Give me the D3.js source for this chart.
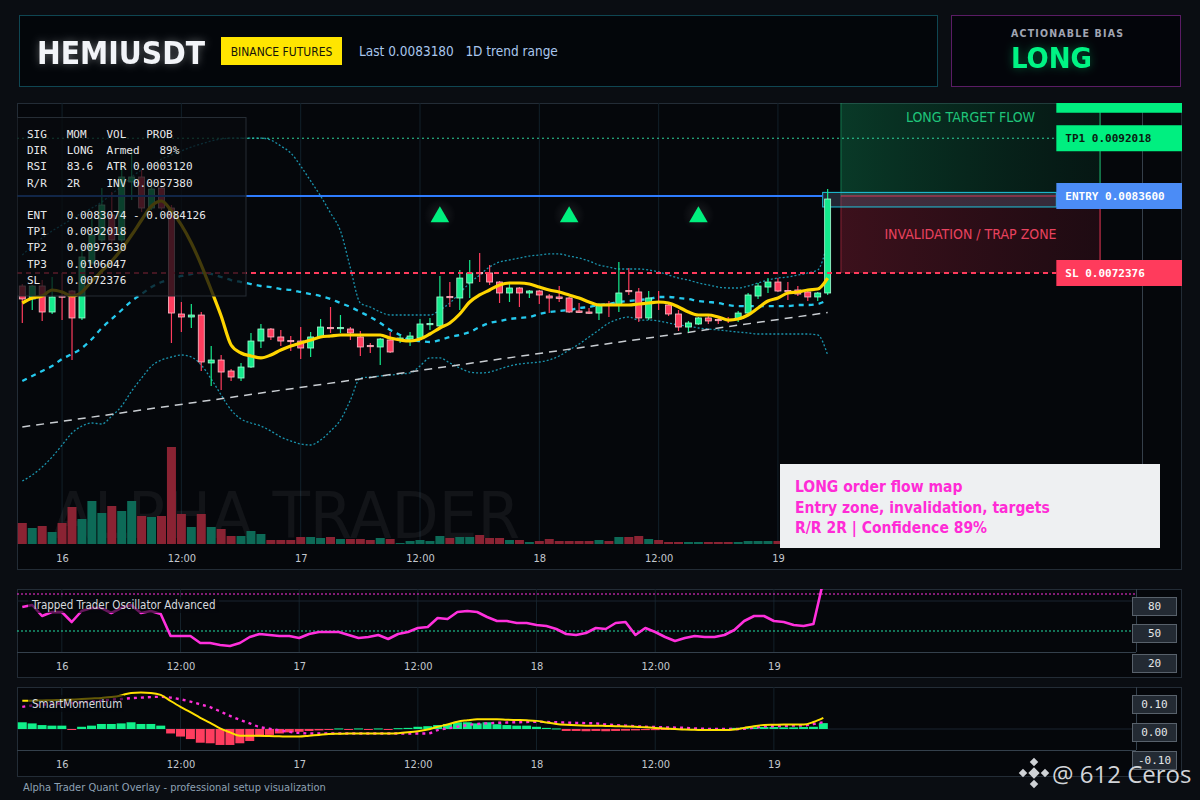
<!DOCTYPE html>
<html>
<head>
<meta charset="utf-8">
<title>HEMIUSDT</title>
<script src="https://cdn.jsdelivr.net/npm/d3@7/dist/d3.min.js"></script>
<style>
	html, body { margin: 0; padding: 0; background: #0a0d12; overflow: hidden; }
	svg { display: block; }
	svg text { font-family: "DejaVu Sans Condensed", "DejaVu Sans", sans-serif; font-stretch: condensed; }
	svg text.mono { font-family: "DejaVu Sans Mono", monospace; font-stretch: normal; white-space: pre; }
	.tick text { fill: #c3c8ce; font-size: 11px; }
</style>
</head>
<body>
<div id="chart"></div>
<script>
// ---------- data (1h candles, first one 15th 20:00) ----------
const open = [0.007048,0.006859,0.007048,0.006669,0.006902,0.006975,0.006582,0.007383,0.007719,0.008083,
	0.007719,0.008564,0.008637,0.008185,0.008477,0.008185,0.006640,0.006596,0.006625,0.005926,
	0.005969,0.005809,0.005707,0.005867,0.006246,0.006421,0.006305,0.006254,0.006246,0.006144,
	0.006305,0.006443,0.006428,0.006421,0.006305,0.006181,0.006159,0.006261,0.006261,0.006275,
	0.006290,0.006487,0.006465,0.006895,0.006873,0.007092,0.007245,0.007238,0.007106,0.006946,
	0.007019,0.006946,0.006975,0.006902,0.006888,0.006873,0.006684,0.006669,0.006654,0.006786,
	0.006771,0.006982,0.006961,0.006582,0.006822,0.006771,0.006640,0.006450,0.006494,0.006582,
	0.006560,0.006560,0.006567,0.006654,0.006902,0.007033,0.007106,0.006982,0.006990,0.006961,
	0.006888,0.006946];
const close = [0.006859,0.007048,0.006669,0.006888,0.006888,0.006582,0.007471,0.007791,0.008229,0.007719,
	0.008637,0.008637,0.008185,0.008462,0.008185,0.006654,0.006596,0.006625,0.005940,0.005969,
	0.005794,0.005721,0.005867,0.006246,0.006421,0.006305,0.006246,0.006239,0.006144,0.006305,
	0.006450,0.006428,0.006443,0.006363,0.006159,0.006166,0.006275,0.006086,0.006290,0.006319,
	0.006494,0.006501,0.006888,0.006880,0.007164,0.007238,0.007230,0.007106,0.006946,0.007019,
	0.006946,0.006975,0.006917,0.006873,0.006866,0.006669,0.006662,0.006650,0.006771,0.006771,
	0.006946,0.006968,0.006582,0.006873,0.006807,0.006640,0.006450,0.006509,0.006582,0.006538,
	0.006545,0.006545,0.006654,0.006917,0.007048,0.007106,0.006975,0.006968,0.006931,0.006888,
	0.006946,0.008316];
const high = [0.007077,0.007063,0.007135,0.007179,0.007238,0.006990,0.007573,0.008054,0.008477,0.008419,
	0.008812,0.009030,0.008739,0.008521,0.008506,0.008229,0.006815,0.006786,0.006669,0.006173,
	0.006042,0.005838,0.005926,0.006363,0.006494,0.006436,0.006407,0.006319,0.006450,0.006377,
	0.006567,0.006742,0.006625,0.006450,0.006392,0.006217,0.006290,0.006377,0.006334,0.006377,
	0.006567,0.006582,0.007194,0.007106,0.007281,0.007427,0.007529,0.007354,0.007121,0.007092,
	0.007033,0.006990,0.006990,0.006931,0.007048,0.006888,0.006800,0.006727,0.006800,0.006829,
	0.007398,0.007310,0.007019,0.006975,0.006975,0.006800,0.006698,0.006538,0.006596,0.006611,
	0.006611,0.006596,0.006684,0.006946,0.007092,0.007164,0.007164,0.007106,0.007048,0.006975,
	0.006961,0.008462];
const low = [0.006509,0.006698,0.006538,0.006640,0.006552,0.005969,0.006552,0.007354,0.007689,0.007646,
	0.007689,0.008302,0.008127,0.008156,0.008156,0.006217,0.006377,0.006436,0.005809,0.005590,
	0.005532,0.005663,0.005663,0.005853,0.006144,0.006261,0.006173,0.006100,0.005984,0.006013,
	0.006290,0.006363,0.006363,0.006261,0.006028,0.006071,0.005896,0.006071,0.006217,0.006173,
	0.006275,0.006407,0.006450,0.006742,0.006698,0.006873,0.007106,0.007063,0.006800,0.006815,
	0.006742,0.006873,0.006786,0.006654,0.006815,0.006654,0.006654,0.006640,0.006552,0.006596,
	0.006669,0.006917,0.006523,0.006552,0.006698,0.006611,0.006392,0.006377,0.006479,0.006494,
	0.006494,0.006509,0.006523,0.006640,0.006859,0.006946,0.006961,0.006844,0.006902,0.006829,
	0.006829,0.006917];
const volume = [21,16,18,12,21,37,25,43,31,38, 33,43,28,27,28,97,30,17,30,17, 15,8,8,13,10,4,4,4,7,7,
	6,7,5,5,5,4,6,5,1,3, 4,3,8,6,7,7,9,6,6,4, 4,2,3,5,3,3,3,3,4,3, 7,7,8,5,4,2,2,2,2,2,
	2,2,2,3,3,3,3,3,3,4, 3,12];

const ema = [0.006800,0.006873,0.006902,0.006990,0.006961,0.006902,0.006961,0.007121,0.007267,0.007412,
	0.007587,0.007791,0.008010,0.008214,0.008287,0.008141,0.007937,0.007675,0.007354,0.006990,
	0.006611,0.006188,0.006071,0.006028,0.005999,0.006042,0.006115,0.006173,0.006217,0.006261,
	0.006305,0.006319,0.006334,0.006334,0.006334,0.006334,0.006334,0.006290,0.006261,0.006246,
	0.006275,0.006348,0.006436,0.006509,0.006640,0.006815,0.006917,0.006990,0.007063,0.007092,
	0.007092,0.007077,0.007033,0.006990,0.006961,0.006917,0.006873,0.006815,0.006771,0.006771,
	0.006771,0.006771,0.006786,0.006800,0.006815,0.006800,0.006742,0.006669,0.006625,0.006625,
	0.006596,0.006552,0.006567,0.006625,0.006727,0.006829,0.006873,0.006946,0.006961,0.006990,
	0.007004,0.007164];
const bbMid = [0.005663,0.005736,0.005809,0.005882,0.005984,0.006057,0.006144,0.006275,0.006436,0.006567,
	0.006698,0.006829,0.006931,0.007033,0.007106,0.007150,0.007194,0.007223,0.007238,0.007223,
	0.007179,0.007135,0.007106,0.007077,0.007048,0.007033,0.007004,0.006990,0.006961,0.006931,
	0.006902,0.006858,0.006800,0.006742,0.006669,0.006596,0.006509,0.006407,0.006334,0.006261,
	0.006246,0.006232,0.006261,0.006305,0.006334,0.006377,0.006450,0.006509,0.006538,0.006567,
	0.006582,0.006596,0.006640,0.006669,0.006684,0.006698,0.006727,0.006742,0.006771,0.006786,
	0.006815,0.006829,0.006844,0.006858,0.006888,0.006888,0.006873,0.006858,0.006829,0.006815,
	0.006800,0.006771,0.006756,0.006756,0.006756,0.006756,0.006756,0.006756,0.006771,0.006771,
	0.006786,0.006844];
const bbUpper = [0.007500,0.007631,0.007748,0.007850,0.007937,0.008025,0.008112,0.008185,0.008272,0.008389,
	0.008506,0.008637,0.008739,0.008812,0.008899,0.008958,0.009016,0.009074,0.009118,0.009162,
	0.009191,0.009205,0.009205,0.009205,0.009205,0.009176,0.009089,0.008987,0.008797,0.008579,
	0.008360,0.008112,0.007850,0.007310,0.006800,0.006742,0.006669,0.006625,0.006625,0.006625,
	0.006625,0.006625,0.006698,0.006800,0.006946,0.007092,0.007208,0.007325,0.007398,0.007427,
	0.007456,0.007485,0.007500,0.007515,0.007515,0.007485,0.007456,0.007412,0.007354,0.007325,
	0.007296,0.007296,0.007296,0.007281,0.007252,0.007208,0.007164,0.007135,0.007092,0.007063,
	0.007033,0.007019,0.007019,0.007048,0.007092,0.007135,0.007164,0.007179,0.007208,0.007238,
	0.007281,0.007689];
const bbLower = [0.004205,0.004293,0.004410,0.004555,0.004730,0.004905,0.005007,0.005051,0.005036,0.005153,
	0.005299,0.005517,0.005707,0.005882,0.005969,0.006013,0.006042,0.006013,0.005896,0.005692,
	0.005459,0.005240,0.005109,0.005051,0.005007,0.004934,0.004847,0.004789,0.004745,0.004730,
	0.004803,0.004934,0.005095,0.005386,0.005707,0.005721,0.005736,0.005750,0.005765,0.005780,
	0.005882,0.005999,0.005999,0.005926,0.005853,0.005794,0.005780,0.005794,0.005838,0.005882,
	0.005911,0.005926,0.005940,0.005969,0.006028,0.006115,0.006202,0.006305,0.006407,0.006509,
	0.006567,0.006596,0.006552,0.006552,0.006538,0.006509,0.006479,0.006465,0.006436,0.006421,
	0.006407,0.006392,0.006377,0.006363,0.006348,0.006348,0.006348,0.006348,0.006348,0.006348,
	0.006334,0.006042];

const trendIdx = [0, 81];
const trendPrice = [0.004993, 0.006662];
const signalIdx = [42, 55, 68];
const signalPrice = 0.008054;

const levelNames = ['TP3', 'TP2', 'TP1', 'ENTRY', 'SL'];
const levelPrices = [0.0106047, 0.0097630, 0.0092018, 0.0083600, 0.0072376];
const zoneBox = [0.0082000, 0.0084126];

const oscValue = [74,76,65,69,69,59,70,73,73,68, 73,76,68,70,67,45,45,45,38,38,
	36,35,38,44,47,46,45,45,43,47, 49,49,49,46,43,44,46,42,47,49,
	53,54,63,62,69,70,69,64,60,60, 58,58,56,55,52,47,46,48,53,52,
	58,59,46,53,49,44,40,43,45,44, 44,46,51,60,65,65,60,59,56,55, 57,100];
const oscTicks = [80, 50, 20];

const momHist = [0.024,0.020,0.014,0.012,0.012,-0.002,0.008,0.012,0.018,0.018,0.020,0.024,0.018,0.018,0.012,
	-0.016,-0.027,-0.036,-0.049,-0.051,-0.057,-0.057,-0.051,-0.043,-0.027,-0.021,-0.016,-0.012,-0.010,-0.007,-0.005,-0.003,
	0.002,-0.002,0.002,-0.002,0.002,-0.002,0.003,0.004,
	0.008,0.010,0.014,0.018,0.024,0.024,0.020,0.024,0.017,0.014,0.012,0.012,0.008,0.004,0.002,
	-0.007,-0.007,-0.008,-0.007,-0.008,-0.007,-0.006,-0.005,-0.004,-0.004,-0.003,-0.003,-0.002,-0.001,-0.002,-0.002,-0.001,
	0.004,0.005,0.006,0.007,0.007,0.006,0.006,0.007,0.008,0.021];
const momLine = [0.101,0.101,0.102,0.103,0.104,0.105,0.107,0.109,0.111,0.114,
	0.120,0.129,0.130,0.129,0.122,0.100,0.079,0.060,0.040,0.022,
	0.002,-0.012,-0.024,-0.024,-0.024,-0.025,-0.026,-0.027,-0.027,-0.024,
	-0.021,-0.018,-0.017,-0.016,-0.016,-0.016,-0.016,-0.016,-0.015,-0.012,
	-0.008,-0.002,0.008,0.016,0.026,0.031,0.035,0.035,0.035,0.033,
	0.032,0.031,0.029,0.023,0.018,0.015,0.013,0.012,0.012,0.011,
	0.010,0.009,0.008,0.006,0.004,0.002,0.000,-0.002,-0.003,-0.004,
	-0.004,-0.004,-0.002,0.004,0.010,0.014,0.015,0.016,0.016,0.016,
	0.025,0.040];
const momSignal = [0.079,0.084,0.087,0.089,0.091,0.093,0.095,0.098,0.101,0.105,
	0.107,0.110,0.112,0.114,0.115,0.112,0.106,0.098,0.088,0.078,
	0.063,0.047,0.033,0.020,0.007,0.001,-0.005,-0.010,-0.014,-0.016,
	-0.016,-0.016,-0.016,-0.016,-0.016,-0.016,-0.016,-0.016,-0.016,-0.016,
	-0.016,-0.016,-0.004,0.002,0.008,0.014,0.018,0.020,0.022,0.023,
	0.024,0.025,0.026,0.025,0.024,0.023,0.022,0.021,0.020,0.016,
	0.014,0.012,0.010,0.008,0.007,0.006,0.005,0.004,0.002,0.001,
	0.000,0.000,0.000,0.001,0.005,0.009,0.010,0.011,0.012,0.012,
	0.018,0.024];
const momTicks = [0.10, 0.00, -0.10];

const infoRows = [
	'SIG   MOM   VOL   PROB',
	'DIR   LONG  Armed   89%',
	'RSI   83.6  ATR 0.0003120',
	'R/R   2R    INV 0.0057380',
	'',
	'ENT   0.0083074 - 0.0084126',
	'TP1   0.0092018',
	'TP2   0.0097630',
	'TP3   0.0106047',
	'SL    0.0072376'
];
const noteRows = ['LONG order flow map', 'Entry zone, invalidation, targets', 'R/R 2R | Confidence 89%'];

// ---------- time ----------
const utc = (d, h, m) => new Date(Date.UTC(2025, 9, d, h, m || 0));
const times = open.map((o, i) => d3.utcHour.offset(utc(15, 20), i));
const lastTime = times[times.length - 1];
const xDomain = [utc(15, 19, 28), utc(20, 12, 37)];
const ticks = d3.utcHour.every(12).range(utc(16, 0), d3.utcHour.offset(lastTime, 1));
const fmtTick = (d) => d.getUTCHours() === 0 ? d3.utcFormat('%-d')(d) : d3.utcFormat('%H:%M')(d);

const entryZoneStart = utc(19, 4, 30);
const boxStart = utc(19, 6, 20);
const labelStart = utc(20, 4, 0);
const boxEnd = utc(20, 8, 24);

const candles = times.map((t, i) => ({ t: t, o: open[i], h: high[i], l: low[i], c: close[i], v: volume[i], up: close[i] >= open[i] }));

// ---------- layout ----------
const W = 1200, H = 800;
const L = 17, R = 1182;
const main = { top: 103, bottom: 570, plotBottom: 544, plotRight: 1142 };
const osc = { top: 589, bottom: 678, plotBottom: 652, plotRight: 1136 };
const mom = { top: 687, bottom: 777, plotBottom: 750, plotRight: 1136 };

const x = d3.scaleUtc().domain(xDomain).range([L, main.plotRight]);
const xLow = d3.scaleUtc().domain(xDomain).range([L, osc.plotRight]);
const y = d3.scaleLinear().domain([0.0032871, 0.0097156]).range([main.plotBottom, main.top]);
const yVol = d3.scaleLinear().domain([0, 100]).range([main.plotBottom, main.plotBottom - 100]);
const yOsc = d3.scaleLinear().domain([29, 92]).range([osc.plotBottom, osc.top]);
const yMom = d3.scaleLinear().domain([-0.075, 0.15]).range([mom.plotBottom, mom.top]);

const GREEN = '#14ea8c', RED = '#ff3d5e';

let svg = d3.select('#chart').append('svg')
	.attr('width', W)
	.attr('height', H);

let defs = svg.append('defs');

function glow(id, std, alpha) {
	let f = defs.append('filter').attr('id', id)
		.attr('x', '-30%').attr('y', '-80%').attr('width', '160%').attr('height', '260%');
	f.append('feGaussianBlur').attr('in', 'SourceGraphic').attr('stdDeviation', std).attr('result', 'b');
	f.append('feComponentTransfer').attr('in', 'b').attr('result', 'bf')
		.append('feFuncA').attr('type', 'linear').attr('slope', alpha);
	let m = f.append('feMerge');
	m.append('feMergeNode').attr('in', 'bf');
	m.append('feMergeNode').attr('in', 'SourceGraphic');
}
glow('glow-white', 4, 0.35);
glow('glow-green', 5, 0.35);

function hGrad(id, c0, c1) {
	let g = defs.append('linearGradient').attr('id', id).attr('x1', 0).attr('x2', 1).attr('y1', 0).attr('y2', 0);
	g.append('stop').attr('offset', '0%').attr('stop-color', c0[0]).attr('stop-opacity', c0[1]);
	g.append('stop').attr('offset', '100%').attr('stop-color', c1[0]).attr('stop-opacity', c1[1]);
}
hGrad('grad-green', ['#14c878', 0.26], ['#0a8a50', 0.12]);
hGrad('grad-red', ['#ff3358', 0.22], ['#d82848', 0.12]);

let halo = defs.append('radialGradient').attr('id', 'halo');
halo.append('stop').attr('offset', '0%').attr('stop-color', '#ffffff').attr('stop-opacity', 0.09);
halo.append('stop').attr('offset', '100%').attr('stop-color', '#ffffff').attr('stop-opacity', 0);

function clip(id, x0, y0, x1, y1) {
	defs.append('clipPath').attr('id', id)
		.append('rect').attr('x', x0).attr('y', y0).attr('width', x1 - x0).attr('height', y1 - y0);
}
clip('clip-main', L, main.top, R, main.plotBottom);
clip('clip-osc', L, osc.top, osc.plotRight, osc.plotBottom);
clip('clip-mom', L, mom.top, mom.plotRight, mom.plotBottom);

// ---------- background + header ----------
svg.append('rect').attr('width', W).attr('height', H).attr('fill', '#0a0d12');

svg.append('rect').attr('x', 19.5).attr('y', 15.5).attr('width', 918).attr('height', 71)
	.attr('fill', '#03060a').attr('stroke', '#0f4652').attr('stroke-width', 1);
svg.append('rect').attr('x', 951.5).attr('y', 15.5).attr('width', 229).attr('height', 71)
	.attr('fill', '#03050a').attr('stroke', '#5a1c64').attr('stroke-width', 1);

svg.append('text').attr('x', 37).attr('y', 64)
	.attr('font-size', 32).attr('font-weight', 'bold').attr('fill', '#f2f4f8')
	.attr('textLength', 168).attr('lengthAdjust', 'spacingAndGlyphs')
	.attr('filter', 'url(#glow-white)')
	.text('HEMIUSDT');

svg.append('rect').attr('x', 221).attr('y', 37).attr('width', 121).attr('height', 28).attr('fill', '#ffe500');
svg.append('text').attr('x', 281.5).attr('y', 55.5).attr('text-anchor', 'middle')
	.attr('font-size', 12).attr('fill', '#15140a')
	.text('BINANCE FUTURES');

svg.append('text').attr('x', 359).attr('y', 56)
	.attr('font-size', 13.5).attr('fill', '#a9c6ee').style('white-space', 'pre')
	.text('Last 0.0083180   1D trend range');

svg.append('text').attr('x', 1011).attr('y', 37)
	.attr('font-size', 10.5).attr('fill', '#a1a5b3').attr('letter-spacing', 1.2).attr('font-weight', 'bold')
	.text('ACTIONABLE BIAS');
svg.append('text').attr('x', 1011).attr('y', 68)
	.attr('font-size', 29).attr('font-weight', 'bold').attr('fill', '#00f484')
	.attr('filter', 'url(#glow-green)')
	.text('LONG');

// ---------- main panel ----------
svg.append('rect').attr('x', L + 0.5).attr('y', main.top + 0.5)
	.attr('width', R - L - 1).attr('height', main.bottom - main.top - 1)
	.attr('fill', '#05070b').attr('stroke', '#232c36');

let plot = svg.append('g').attr('clip-path', 'url(#clip-main)');

plot.append('g').attr('id', 'grid-main')
	.selectAll('line').data(ticks).enter().append('line')
	.attr('x1', (d) => x(d)).attr('x2', (d) => x(d))
	.attr('y1', main.top).attr('y2', main.plotBottom)
	.attr('stroke', '#12202a');

plot.append('line')
	.attr('x1', main.plotRight + 0.5).attr('x2', main.plotRight + 0.5)
	.attr('y1', main.top).attr('y2', main.plotBottom)
	.attr('stroke', '#353f4a');

plot.append('text').attr('x', 52).attr('y', 538)
	.attr('font-size', 64).attr('fill', '#ffffff').attr('fill-opacity', 0.055)
	.attr('textLength', 468).attr('lengthAdjust', 'spacingAndGlyphs')
	.text('ALPHA TRADER');

plot.append('g').attr('id', 'volume')
	.selectAll('rect').data(candles).enter().append('rect')
	.attr('x', (d) => x(d.t) - 4.5)
	.attr('width', 9)
	.attr('y', (d) => yVol(d.v))
	.attr('height', (d) => main.plotBottom - yVol(d.v))
	.attr('fill', (d) => d.up ? '#0d6a57' : '#8a2333');

// target / invalidation zones
let boxW = x(boxEnd) - x(boxStart);
plot.append('rect').attr('x', x(boxStart)).attr('width', boxW)
	.attr('y', y(levelPrices[0])).attr('height', y(levelPrices[3]) - y(levelPrices[0]))
	.attr('fill', 'url(#grad-green)');
plot.append('rect').attr('x', x(boxStart)).attr('width', boxW)
	.attr('y', y(levelPrices[3])).attr('height', y(levelPrices[4]) - y(levelPrices[3]))
	.attr('fill', 'url(#grad-red)');
[boxStart, boxEnd].forEach((t, k) => {
	plot.append('line').attr('x1', x(t)).attr('x2', x(t))
		.attr('y1', y(levelPrices[0])).attr('y2', y(levelPrices[3]))
		.attr('stroke', '#22d882').attr('stroke-opacity', k ? 0.9 : 0.45);
	plot.append('line').attr('x1', x(t)).attr('x2', x(t))
		.attr('y1', y(levelPrices[3])).attr('y2', y(levelPrices[4]))
		.attr('stroke', '#ff3b5c').attr('stroke-opacity', k ? 0.9 : 0.45);
});
let boxMid = (x(boxStart) + x(boxEnd)) / 2;
plot.append('text').attr('x', boxMid).attr('y', main.top + 19).attr('text-anchor', 'middle')
	.attr('font-size', 14).attr('fill', '#1fc47a')
	.text('LONG TARGET FLOW');
plot.append('text').attr('x', boxMid).attr('y', (y(levelPrices[3]) + y(levelPrices[4])) / 2 + 5).attr('text-anchor', 'middle')
	.attr('font-size', 14).attr('fill', '#e8425e')
	.text('INVALIDATION / TRAP ZONE');
plot.append('rect')
	.attr('x', x(entryZoneStart)).attr('width', x(labelStart) - x(entryZoneStart))
	.attr('y', y(zoneBox[1])).attr('height', y(zoneBox[0]) - y(zoneBox[1]))
	.attr('fill', '#5a6880').attr('fill-opacity', 0.35)
	.attr('stroke', '#1ec6de').attr('stroke-width', 1);
plot.append('line').attr('x1', x(boxStart)).attr('x2', x(labelStart))
	.attr('y1', y(levelPrices[3])).attr('y2', y(levelPrices[3]))
	.attr('stroke', '#ff3b5c').attr('stroke-opacity', 0.8);

// bands, trend
let line = (arr) => d3.line().x((d, i) => x(times[i])).y((d) => y(d)).curve(d3.curveMonotoneX)(arr);
plot.append('path').attr('d', line(bbUpper)).attr('fill', 'none')
	.attr('stroke', '#1a93ad').attr('stroke-width', 1.3).attr('stroke-dasharray', '2,2');
plot.append('path').attr('d', line(bbLower)).attr('fill', 'none')
	.attr('stroke', '#1a93ad').attr('stroke-width', 1.3).attr('stroke-dasharray', '2,2');
plot.append('path').attr('d', line(bbMid)).attr('fill', 'none')
	.attr('stroke', '#25c9ee').attr('stroke-width', 2.3).attr('stroke-dasharray', '5,5');
plot.append('line')
	.attr('x1', x(times[trendIdx[0]])).attr('y1', y(trendPrice[0]))
	.attr('x2', x(times[trendIdx[1]])).attr('y2', y(trendPrice[1]))
	.attr('stroke', '#c9cdd2').attr('stroke-width', 1.5).attr('stroke-dasharray', '8,6');

// candles
let gCandle = plot.append('g').attr('id', 'candles')
	.selectAll('g').data(candles).enter().append('g');
gCandle.append('line')
	.attr('x1', (d) => x(d.t)).attr('x2', (d) => x(d.t))
	.attr('y1', (d) => y(d.h)).attr('y2', (d) => y(d.l))
	.attr('stroke', (d) => d.up ? GREEN : RED).attr('stroke-width', 1.2);
gCandle.append('rect')
	.attr('x', (d) => x(d.t) - 3)
	.attr('width', 6)
	.attr('y', (d) => y(Math.max(d.o, d.c)))
	.attr('height', (d) => Math.max(1.2, Math.abs(y(d.o) - y(d.c))))
	.attr('fill', (d) => d.up ? GREEN : RED)
	.attr('stroke', (d) => d.up ? '#a8ffd6' : '#ffc0cc').attr('stroke-width', 0.8);

// level lines
plot.append('line').attr('x1', L).attr('x2', x(labelStart))
	.attr('y1', y(levelPrices[2])).attr('y2', y(levelPrices[2]))
	.attr('stroke', '#2fd49c').attr('stroke-width', 1).attr('stroke-dasharray', '2,3');
plot.append('line').attr('x1', L).attr('x2', x(labelStart))
	.attr('y1', y(levelPrices[4])).attr('y2', y(levelPrices[4]))
	.attr('stroke', '#ff3b5c').attr('stroke-width', 1.8).attr('stroke-dasharray', '5,4');
plot.append('line').attr('x1', L).attr('x2', x(entryZoneStart))
	.attr('y1', y(levelPrices[3])).attr('y2', y(levelPrices[3]))
	.attr('stroke', '#2e7cff').attr('stroke-width', 2);

plot.append('path').attr('d', line(ema)).attr('fill', 'none')
	.attr('stroke', '#ffd500').attr('stroke-width', 3.2).attr('stroke-linejoin', 'round');

// signal markers
let gSig = plot.append('g').selectAll('g').data(signalIdx).enter().append('g')
	.attr('transform', (d) => 'translate(' + x(times[d]) + ',' + y(signalPrice) + ')');
gSig.append('circle').attr('r', 16).attr('cy', -2).attr('fill', 'url(#halo)');
gSig.append('path').attr('d', d3.symbol(d3.symbolTriangle, 150)()).attr('fill', '#00f07e');

// info box
plot.append('rect').attr('x', L).attr('y', 117.5).attr('width', 229).attr('height', 178.5)
	.attr('fill', '#080a0e').attr('fill-opacity', 0.76).attr('stroke', '#262d35');
plot.append('g').selectAll('text').data(infoRows).enter().append('text')
	.attr('class', 'mono')
	.attr('x', 27).attr('y', (d, i) => 138 + i * 16.2)
	.attr('font-size', 11).attr('fill', '#e6e8ea')
	.text((d) => d);

// right price labels (a label cut by the panel top keeps only its colour strip)
let gLab = plot.append('g').selectAll('g').data(levelNames).enter().append('g')
	.attr('transform', (d, i) => 'translate(' + x(labelStart) + ',' + y(levelPrices[i]) + ')');
gLab.append('rect').attr('y', -13).attr('height', 26).attr('width', R - x(labelStart))
	.attr('fill', (d) => d === 'ENTRY' ? '#4b8cf6' : (d === 'SL' ? '#ff3b5c' : '#00ef80'));
gLab.filter((d, i) => y(levelPrices[i]) - 9 >= main.top)
	.append('text').attr('class', 'mono').attr('x', 9).attr('y', 4)
	.attr('font-size', 11).attr('font-weight', 'bold')
	.attr('fill', (d) => (d === 'ENTRY' || d === 'SL') ? '#ffffff' : '#0a1a10')
	.text((d) => d + ' ' + levelPrices[levelNames.indexOf(d)].toFixed(7));

// time axis
let axMain = svg.append('g').attr('transform', 'translate(0,' + main.plotBottom + ')')
	.call(d3.axisBottom(x).tickValues(ticks).tickFormat(fmtTick).tickSize(0).tickPadding(10));
axMain.select('.domain').remove();

// note box
svg.append('rect').attr('x', 780).attr('y', 464).attr('width', 380).attr('height', 84).attr('fill', '#eef0f2');
svg.append('g').selectAll('text').data(noteRows).enter().append('text')
	.attr('x', 795).attr('y', (d, i) => 492 + i * 20.5)
	.attr('font-size', 15.5).attr('font-weight', 'bold').attr('fill', '#ff2bd6')
	.text((d) => d);

// ---------- lower panels ----------
function lowerPanel(p, clipId) {
	svg.append('rect').attr('x', L + 0.5).attr('y', p.top + 0.5)
		.attr('width', R - L - 1).attr('height', p.bottom - p.top - 1)
		.attr('fill', '#05070b').attr('stroke', '#232c36');
	svg.append('g').selectAll('line').data(ticks).enter().append('line')
		.attr('x1', (d) => xLow(d)).attr('x2', (d) => xLow(d))
		.attr('y1', p.top).attr('y2', p.plotBottom)
		.attr('stroke', '#14212a');
	svg.append('line').attr('x1', L).attr('x2', p.plotRight).attr('y1', p.plotBottom + 0.5).attr('y2', p.plotBottom + 0.5)
		.attr('stroke', '#34404c');
	svg.append('line').attr('x1', p.plotRight + 0.5).attr('x2', p.plotRight + 0.5).attr('y1', p.top).attr('y2', p.plotBottom)
		.attr('stroke', '#34404c');
	let ax = svg.append('g').attr('transform', 'translate(0,' + p.plotBottom + ')')
		.call(d3.axisBottom(xLow).tickValues(ticks).tickFormat(fmtTick).tickSize(0).tickPadding(10));
	ax.select('.domain').remove();
	return svg.append('g').attr('clip-path', 'url(#' + clipId + ')');
}

function scaleLabels(values, yPos, fmt) {
	let g = svg.append('g').selectAll('g').data(values).enter().append('g')
		.attr('transform', (d) => 'translate(1132,' + yPos(d) + ')');
	g.append('rect').attr('x', 0.5).attr('y', -8.5).attr('width', 44).attr('height', 18)
		.attr('fill', '#232a33').attr('stroke', '#58616b');
	g.append('text').attr('class', 'mono').attr('x', 22.5).attr('y', 4).attr('text-anchor', 'middle')
		.attr('font-size', 11).attr('fill', '#e4e6e8')
		.text(fmt);
}

// oscillator
let gOsc = lowerPanel(osc, 'clip-osc');
gOsc.append('line').attr('x1', L).attr('x2', osc.plotRight).attr('y1', yOsc(80)).attr('y2', yOsc(80)).attr('stroke', '#1a2530');
gOsc.append('line').attr('x1', L).attr('x2', osc.plotRight).attr('y1', yOsc(87)).attr('y2', yOsc(87))
	.attr('stroke', '#ff33dd').attr('stroke-dasharray', '2,2');
gOsc.append('line').attr('x1', L).attr('x2', osc.plotRight).attr('y1', yOsc(50)).attr('y2', yOsc(50))
	.attr('stroke', '#22e0a4').attr('stroke-dasharray', '2,2');
gOsc.append('path')
	.attr('d', d3.line().x((d, i) => xLow(times[i])).y((d) => yOsc(d))(oscValue))
	.attr('fill', 'none').attr('stroke', '#ff30dc').attr('stroke-width', 2.6).attr('stroke-linejoin', 'round');
svg.append('rect').attr('x', 28).attr('y', 597).attr('width', 191).attr('height', 16).attr('fill', '#05070b').attr('fill-opacity', 0.62);
svg.append('text').attr('x', 32).attr('y', 609).attr('font-size', 11.5).attr('fill', '#d6dade')
	.text('Trapped Trader Oscillator Advanced');
scaleLabels(oscTicks, (d) => Math.max(yOsc(d) + 2, osc.top + 17), (d) => d);

// smart momentum
let gMom = lowerPanel(mom, 'clip-mom');
gMom.append('line').attr('x1', L).attr('x2', mom.plotRight).attr('y1', yMom(0)).attr('y2', yMom(0)).attr('stroke', '#1a2530');
gMom.append('g').selectAll('rect').data(momHist).enter().append('rect')
	.attr('x', (d, i) => xLow(times[i]) - 4.5).attr('width', 9)
	.attr('y', (d) => yMom(Math.max(0, d)))
	.attr('height', (d) => Math.max(1, Math.abs(yMom(d) - yMom(0))))
	.attr('fill', (d) => d >= 0 ? '#10f08a' : '#ff3d5f');
gMom.append('path')
	.attr('d', d3.line().x((d, i) => xLow(times[i])).y((d) => yMom(d)).curve(d3.curveMonotoneX)(momSignal))
	.attr('fill', 'none').attr('stroke', '#ff2fd8').attr('stroke-width', 2.4).attr('stroke-dasharray', '3,4');
gMom.append('path')
	.attr('d', d3.line().x((d, i) => xLow(times[i])).y((d) => yMom(d)).curve(d3.curveMonotoneX)(momLine))
	.attr('fill', 'none').attr('stroke', '#ffe000').attr('stroke-width', 2);
svg.append('rect').attr('x', 28).attr('y', 695).attr('width', 96).attr('height', 17).attr('fill', '#05070b').attr('fill-opacity', 0.62);
svg.append('text').attr('x', 32).attr('y', 708).attr('font-size', 11.5).attr('fill', '#d6dade')
	.text('SmartMomentum');
scaleLabels(momTicks, (d) => yMom(d) + 3, (d) => d.toFixed(2));

// ---------- footer ----------
svg.append('text').attr('x', 23).attr('y', 791).attr('font-size', 11).attr('fill', '#8ea2b4')
	.text('Alpha Trader Quant Overlay - professional setup visualization');

let logo = svg.append('g').attr('transform', 'translate(1034,773)').attr('fill', '#cfd2d6');
[[0, 0, 8], [0, -11, 6], [0, 11, 6], [-11, 0, 6], [11, 0, 6]].forEach((s) => {
	logo.append('rect').attr('x', s[0] - s[2] / 2).attr('y', s[1] - s[2] / 2).attr('width', s[2]).attr('height', s[2])
		.attr('transform', 'rotate(45,' + s[0] + ',' + s[1] + ')');
});
svg.append('text').attr('x', 1052).attr('y', 783)
	.style('font-family', '"Open Sans", sans-serif').style('font-stretch', 'normal')
	.attr('font-size', 24).attr('fill', '#d2d4d8')
	.text('@ 612 Ceros');
</script>
</body>
</html>
